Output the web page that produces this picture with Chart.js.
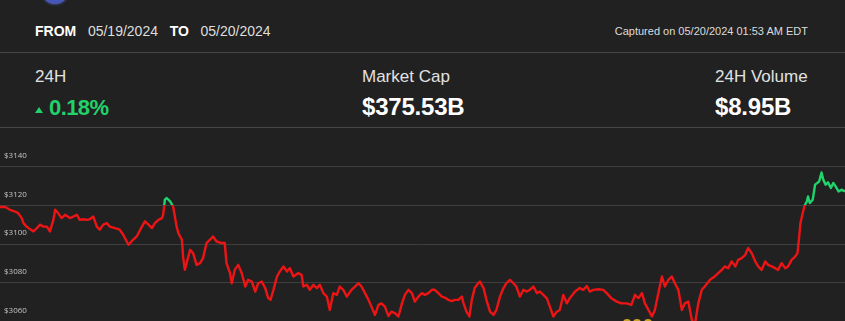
<!DOCTYPE html>
<html><head><meta charset="utf-8">
<script src="https://cdn.jsdelivr.net/npm/chart.js@4/dist/chart.umd.min.js"></script>
<style>
html,body{margin:0;padding:0;background:#212121;width:845px;height:321px;overflow:hidden;font-family:"Liberation Sans",Arial,Helvetica,sans-serif;}
.abs{position:absolute;white-space:nowrap;}
.logo{left:42px;top:-22px;width:26px;height:26px;border-radius:50%;background:#4757b8;box-shadow:0 0 3px #5d6dd0;}
.hdr{top:24px;font-size:14px;line-height:14px;color:#dedede;}
.hdr b{color:#fff;}
.cap{top:26px;right:37px;font-size:11px;line-height:11px;color:#dcdcdc;}
.sep{left:0;width:845px;height:1px;background:#474747;}
.lbl{top:68px;font-size:17px;line-height:17px;color:#e2e2e2;}
.val{top:95px;font-size:24px;line-height:24px;font-weight:bold;color:#fff;letter-spacing:-0.2px;}
.pct{top:97px;font-size:22px;line-height:22px;font-weight:bold;color:#22d16b;letter-spacing:-0.6px;}
.tri{left:35px;top:107px;width:0;height:0;border-left:4px solid transparent;border-right:4px solid transparent;border-bottom:6px solid #22d16b;}
.dot{width:8px;height:8px;border-radius:50%;background:#caa22a;top:319px;}
#wrap{position:absolute;left:0;top:128px;width:845px;height:232px;}
</style></head>
<body>
<div class="abs logo"></div>
<div class="abs hdr" style="left:35px"><b>FROM</b>&nbsp;&nbsp;&nbsp;05/19/2024&nbsp;&nbsp;&nbsp;<b>TO</b>&nbsp;&nbsp;&nbsp;05/20/2024</div>
<div class="abs cap">Captured on 05/20/2024 01:53 AM EDT</div>
<div class="abs sep" style="top:52px"></div>
<div class="abs lbl" style="left:35px">24H</div>
<div class="abs tri"></div>
<div class="abs pct" style="left:49px">0.18%</div>
<div class="abs lbl" style="left:362px">Market Cap</div>
<div class="abs val" style="left:362px">$375.53B</div>
<div class="abs lbl" style="left:715px">24H Volume</div>
<div class="abs val" style="left:715px">$8.95B</div>
<div class="abs sep" style="top:127px"></div>
<div id="wrap"><canvas id="c" width="845" height="232"></canvas></div>
<div class="abs dot" style="left:623px"></div>
<div class="abs dot" style="left:633px"></div>
<div class="abs dot" style="left:644px"></div>
<script>
// minutes since start of the 24h window
const times = [0,9,17,26,31,37,40,45,51,57,63,68,74,80,85,91,94,99,105,111,119,125,131,136,142,148,153,159,165,170,176,182,187,196,204,210,216,219,224,233,239,247,253,259,264,270,276,278,281,284,290,295,298,301,304,310,312,315,318,324,329,335,341,346,352,358,363,369,378,383,386,392,395,400,406,412,418,423,429,435,440,446,452,457,461,466,472,477,483,489,494,500,508,514,517,523,528,534,540,545,551,557,562,568,574,579,585,591,599,605,611,616,622,628,633,639,645,650,656,662,667,673,679,685,690,696,702,707,713,719,724,730,736,741,747,753,758,764,770,775,781,787,790,795,800,804,809,815,818,824,829,835,841,846,852,858,863,869,875,880,886,892,898,903,909,915,920,926,932,937,943,949,954,960,966,971,980,988,994,1000,1005,1011,1020,1028,1034,1042,1051,1059,1068,1076,1082,1088,1094,1099,1105,1111,1116,1122,1128,1133,1139,1145,1150,1156,1162,1167,1173,1179,1184,1190,1196,1201,1210,1218,1224,1230,1235,1241,1247,1253,1258,1264,1270,1275,1281,1287,1292,1298,1304,1309,1315,1321,1326,1332,1338,1343,1349,1355,1359,1362,1364,1368,1371,1375,1377,1380,1385,1389,1393,1396,1400,1403,1407,1411,1416,1420,1424,1429,1434,1440];
const prices = [3119.1,3119.1,3117.7,3116.8,3116,3113.4,3110.8,3109,3107.7,3106.5,3108.2,3110,3109,3109,3106.5,3112.5,3117.7,3116,3113.4,3115.1,3113.4,3114.2,3115.1,3112.5,3112.8,3112.5,3112.8,3114.2,3109,3107.4,3110,3110.8,3109,3108.2,3107.4,3104.8,3101.3,3099.6,3101.3,3103.9,3107.4,3111.7,3110,3108.2,3110.8,3112.5,3113.4,3115.1,3122.9,3123.8,3122,3119.4,3114.2,3109,3105.6,3102.2,3093.5,3086.6,3090.1,3097,3095.3,3089.2,3090.1,3092.7,3100.5,3102.2,3103.9,3101.3,3100.5,3100.5,3090.1,3084.9,3079.7,3086.6,3089.2,3084.9,3078,3081.5,3080.6,3075.4,3079.7,3080.6,3077.2,3072,3071.1,3076.3,3083.2,3085.8,3088.4,3085.8,3087.5,3083.2,3084.9,3084,3078,3078.9,3076.3,3078.9,3077.2,3078.9,3074.6,3072.8,3065.9,3074.6,3073.7,3078,3076.3,3072.8,3076.3,3078,3079.7,3078,3074.6,3071.1,3067.6,3063.3,3068.5,3069.3,3067.6,3062.7,3065,3064.2,3062.5,3069.3,3073.7,3076.3,3074.6,3070.2,3072.8,3074.6,3073.7,3074.6,3076.3,3076.3,3074.6,3072.8,3072.3,3071.1,3070.5,3071.1,3071.1,3072.8,3069.3,3065,3062.5,3071.1,3077.2,3079.7,3080.6,3077.2,3071.1,3065,3063.3,3065.9,3072.8,3077.2,3079.7,3081.5,3079.7,3078,3072.8,3076.3,3075.4,3076.3,3078,3074.6,3075.4,3073.7,3071.9,3067.6,3062.5,3065,3065.9,3073.7,3069.3,3072,3075.4,3077.2,3076.3,3078.3,3075.4,3076.3,3076.6,3076.3,3074.6,3071.9,3070.2,3069.3,3069.3,3068.5,3073.7,3072,3074.6,3069.3,3065.9,3062.5,3065.9,3074.6,3083.2,3078,3081.5,3083.2,3079.7,3076.3,3065.9,3069.3,3070.2,3060.7,3058,3069.3,3076.3,3078,3081.5,3083.2,3084.9,3086.6,3088.4,3087.5,3091,3088.4,3091.8,3092.7,3094.4,3097.9,3095.3,3091,3088.4,3086.6,3091,3089.2,3088.4,3087.5,3086.6,3090.1,3087.5,3088.4,3091.8,3093.5,3095.3,3103.9,3110.8,3116,3119.8,3122,3124.6,3121.2,3122.9,3130.7,3131.6,3132.4,3137,3133.3,3130.7,3131.9,3129,3131.6,3129.8,3127.2,3128.1,3127.2];
const yTicks = [3060, 3080, 3100, 3120, 3140];
const openPrice = 3120;
const UP = '#1fd46c', DOWN = '#ec1414';

function lineColor(ctx) {
  const chart = ctx.chart;
  const area = chart.chartArea;
  if (!area) return DOWN;
  const y = chart.scales.y.getPixelForValue(openPrice);
  let s = (y - area.top) / (area.bottom - area.top);
  s = Math.min(1, Math.max(0, s));
  const g = chart.ctx.createLinearGradient(0, area.top, 0, area.bottom);
  g.addColorStop(0, UP); g.addColorStop(s, UP);
  g.addColorStop(s, DOWN); g.addColorStop(1, DOWN);
  return g;
}

new Chart(document.getElementById('c'), {
  type: 'line',
  data: { datasets: [{
    data: times.map((t, i) => ({ x: t, y: prices[i] })),
    borderColor: lineColor, borderWidth: 2.4, pointRadius: 0, tension: 0, fill: false,
    borderJoinStyle: 'round'
  }]},
  options: {
    responsive: false, animation: false, devicePixelRatio: 1,
    layout: { padding: 0 },
    plugins: { legend: { display: false }, tooltip: { enabled: false } },
    scales: {
      x: { type: 'linear', min: 0, max: 1440, display: false },
      y: {
        min: 3040, max: 3160,
        afterFit: s => { s.width = 0; s.paddingTop = 0; s.paddingBottom = 0; s.paddingLeft = 0; s.paddingRight = 0; },
        afterBuildTicks: s => { s.ticks = [3040].concat(yTicks, [3160]).map(v => ({ value: v })); },
        border: { display: false },
        grid: { drawTicks: false, color: c => (c.tick && yTicks.includes(c.tick.value)) ? '#3f3f3f' : 'rgba(0,0,0,0)', lineWidth: 1 },
        ticks: {
          mirror: true, padding: 4, labelOffset: -11, color: '#c4c4c4',
          font: { family: 'Open Sans', size: 8 },
          callback: v => yTicks.includes(v) ? '$' + v : ''
        }
      }
    }
  }
});
</script>
</body></html>
